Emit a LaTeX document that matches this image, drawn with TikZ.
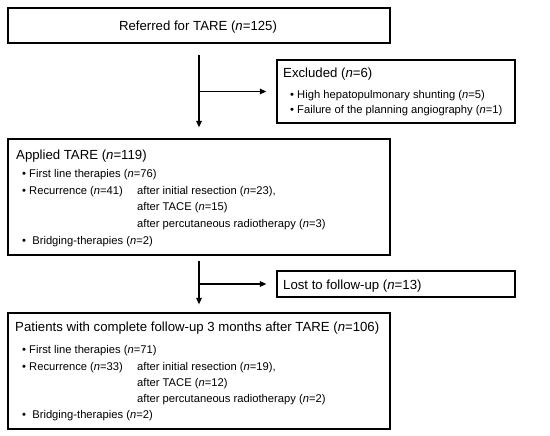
\documentclass[tikz,border=0pt]{standalone}
\usepackage{fontspec}
\setmainfont{Liberation Sans}
\usetikzlibrary{arrows.meta}
\begin{document}
\begin{tikzpicture}[x=1pt,y=-1pt,
  box/.style={draw,line width=1.2pt,inner sep=0pt},
  big/.style={anchor=base west,inner sep=0pt,font=\fontsize{13.2}{15}\selectfont},
  small/.style={anchor=base west,inner sep=0pt,font=\fontsize{11.2}{13}\selectfont},
  flow/.style={line width=1.3pt,-{Triangle[length=6.5pt,width=5.5pt]}}]
\useasboundingbox (0,0) rectangle (550,436);
% boxes
\node[box,minimum width=382pt,minimum height=35pt] (b1) at (199,25.5) {};
\node[box,minimum width=238pt,minimum height=63pt] (excl) at (396,91.5) {};
\node[box,minimum width=382pt,minimum height=116pt] (b2) at (199,197) {};
\node[box,minimum width=238pt,minimum height=26pt] (lost) at (396,284) {};
\node[box,minimum width=382pt,minimum height=116pt] (b3) at (199,371) {};
% referred text
\node[anchor=base,inner sep=0pt,font=\fontsize{13.2}{15}\selectfont] (t1) at (198,30.5) {Referred for TARE (\textit{n}=125)};
% excluded text
\node[big] (ex0) at (283,77.5) {Excluded (\textit{n}=6)};
\node[small] (ex1) at (290,98.5) {•\ High hepatopulmonary shunting (\textit{n}=5)};
\node[small] (ex2) at (290,113.5) {•\ Failure of the planning angiography (\textit{n}=1)};
% applied TARE
\node[big] (a0) at (16,159.8) {Applied TARE (\textit{n}=119)};
\node[small] (a1) at (22,178) {•\ First line therapies (\textit{n}=76)};
\node[small] (a2) at (22,195) {•\ Recurrence (\textit{n}=41)};
\node[small] (a2a) at (137,195) {after initial resection (\textit{n}=23),};
\node[small] (a2b) at (137,211) {after TACE (\textit{n}=15)};
\node[small] (a2c) at (137,227) {after percutaneous radiotherapy (\textit{n}=3)};
\node[small] (a3) at (22,244) {•\ \ Bridging-therapies (\textit{n}=2)};
% lost
\node[big] (l0) at (283,289.6) {Lost to follow-up (\textit{n}=13)};
% patients
\node[big] (p0) at (15,331) {Patients with complete follow-up 3 months after TARE (\textit{n}=106)};
\node[small] (p1) at (22,353.5) {•\ First line therapies (\textit{n}=71)};
\node[small] (p2) at (22,370) {•\ Recurrence (\textit{n}=33)};
\node[small] (p2a) at (137,370) {after initial resection (\textit{n}=19),};
\node[small] (p2b) at (137,386.5) {after TACE (\textit{n}=12)};
\node[small] (p2c) at (137,402.5) {after percutaneous radiotherapy (\textit{n}=2)};
\node[small] (p3) at (22,418.5) {•\ \ Bridging-therapies (\textit{n}=2)};
% connectors
\coordinate (j1) at (b1.south |- excl.west);
\coordinate (j2) at (b2.south |- lost.west);
\draw[flow,shorten <=11pt,shorten >=11pt] (b1.south) -- (b2.north);
\draw[flow,shorten >=10pt] (j1) -- (excl.west);
\draw[flow,shorten <=5pt,shorten >=8pt] (b2.south) -- (b3.north);
\draw[flow,shorten >=10pt] (j2) -- (lost.west);
\end{tikzpicture}
\end{document}
